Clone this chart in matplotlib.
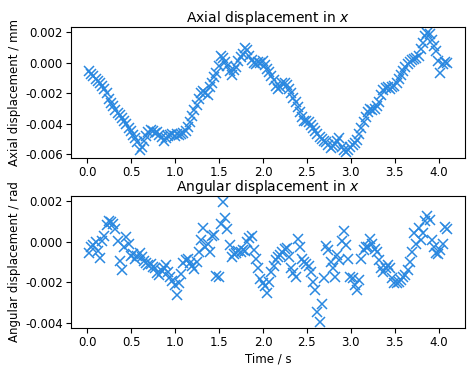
import numpy as np
import matplotlib
matplotlib.use("Agg")
import matplotlib.pyplot as plt

# sample times (s)
time = np.round(np.arange(0.02, 4.1, 0.025), 3)

# axial displacement (units of 1e-3 mm)
axial = [
    -0.55, -0.75, -0.9, -1.05, -1.2, -1.35, -1.5, -1.75,
    -2.0, -2.35, -2.65, -2.85, -3.1, -3.3, -3.45, -3.6,
    -3.8, -4.05, -4.3, -4.5, -4.75, -4.95, -5.2, -5.7,
    -5.5, -5.1, -4.8, -4.55, -4.4, -4.5, -4.6, -4.55,
    -4.75, -4.9, -5.1, -4.95, -4.8, -4.75, -4.7, -4.8,
    -4.7, -4.75, -4.65, -4.6, -4.45, -4.2, -3.9, -3.5,
    -3.1, -2.75, -2.4, -2.0, -1.85, -2.0, -2.15, -1.6,
    -1.3, -0.95, -0.7, -0.2, 0.45, 0.3, 0.05, -0.2,
    -0.55, -0.8, -0.5, -0.3, 0.1, 0.4, 0.6, 0.95,
    0.8, 0.45, 0.15, 0.0, -0.1, 0.05, -0.05, 0.1,
    -0.15, -0.4, -0.6, -0.85, -1.15, -1.5, -1.75, -1.6,
    -1.35, -1.3, -1.45, -1.7, -2.0, -2.3, -2.6, -2.9,
    -3.2, -3.55, -3.8, -3.85, -3.9, -4.1, -4.3, -4.5,
    -4.65, -4.85, -5.0, -5.1, -5.2, -5.4, -5.6, -5.45,
    -5.3, -5.1, -4.95, -5.55, -5.7, -5.85, -5.75, -5.5,
    -5.4, -5.25, -5.05, -4.7, -4.3, -3.9, -3.55, -3.2,
    -3.05, -3.1, -3.05, -2.85, -2.55, -2.15, -1.8, -1.65,
    -1.6, -1.7, -1.6, -1.55, -1.35, -1.05, -0.8, -0.55,
    -0.3, -0.1, 0.05, 0.15, 0.25, 0.3, 0.45, 0.9,
    1.3, 1.75, 1.95, 1.85, 1.5, 1.1, 0.75, 0.1,
    -0.65, -0.1, 0.05, -0.05,
]

# angular displacement (units of 1e-3 rad)
angular = [
    -0.55, -0.25, -0.15, 0.0, -0.45, -0.8, 0.05, 0.3,
    0.8, 1.0, 0.95, 0.85, 0.6, 0.05, -0.95, -1.4,
    -0.25, 0.25, -0.1, -0.7, -0.6, -0.85, -0.7, -0.55,
    -0.75, -0.95, -1.05, -1.15, -1.1, -1.25, -1.3, -1.55,
    -1.65, -1.45, -1.3, -1.15, -1.5, -1.75, -1.95, -2.15,
    -2.6, -2.05, -1.6, -1.05, -0.9, -0.85, -1.05, -1.2,
    -1.35, -1.0, -0.5, 0.1, 0.65, -0.25, -0.1, -0.5,
    0.3, 0.35, -1.7, -1.75, 0.85, 1.95, 1.15, 0.6,
    -0.15, -0.75, -0.6, -0.55, -0.45, -0.5, -0.4, -0.45,
    0.0, 0.2, 0.3, -0.4, -0.85, -1.3, -1.85, -2.05,
    -2.2, -2.5, -2.0, -1.5, -1.2, -0.9, -0.75, -0.65,
    -0.5, -0.35, -0.3, -0.75, -1.3, -1.55, -1.75, 0.15,
    -0.25, -0.85, -1.0, -1.1, -1.2, -1.5, -2.0, -2.4,
    -3.45, -3.95, -3.05, -1.8, -0.2, -0.4, -1.0, -1.3,
    -1.75, -0.65, -0.9, 0.05, 0.5, -0.15, -0.85, -1.75,
    -1.8, -2.15, -2.4, -1.9, -0.85, -0.4, -0.25, -0.25,
    0.15, -0.1, -0.35, -0.5, -0.9, -1.3, -1.5, -1.3,
    -1.15, -1.3, -1.8, -2.05, -2.05, -2.0, -1.9, -1.75,
    -1.65, -1.4, -1.0, -0.5, 0.4, -0.1, 0.65, 0.1,
    0.4, 1.0, 1.25, 1.05, 0.1, -0.25, -0.55, -0.6,
    -0.4, -0.1, 0.7, 0.6,
]

titles = ["Axial displacement in $x$", "Angular displacement in $x$"]
ylabels = ["Axial displacement / mm", "Angular displacement / rad"]
xlabel = "Time / s"

color = "#2a88e0"
fig = plt.figure(figsize=(4.74, 3.69), dpi=100)
ax1 = fig.add_axes([0.150, 0.572, 0.831, 0.355])
ax2 = fig.add_axes([0.150, 0.111, 0.831, 0.358])

for ax, vals, title, ylab in [(ax1, axial, titles[0], ylabels[0]),
                              (ax2, angular, titles[1], ylabels[1])]:
    ax.plot(time, np.array(vals) * 1e-3, "x", color=color, markersize=7, markeredgewidth=1.1)
    ax.set_title(title, fontsize=10, pad=3)
    ax.set_ylabel(ylab, fontsize=8.5, labelpad=3)
    ax.tick_params(labelsize=8.5, pad=2.5)
    ax.set_xticks([0.0, 0.5, 1.0, 1.5, 2.0, 2.5, 3.0, 3.5, 4.0])

ax1.set_yticks([0.002, 0.0, -0.002, -0.004, -0.006])
ax2.set_yticks([0.002, 0.0, -0.002, -0.004])
ax1.yaxis.set_major_formatter(matplotlib.ticker.FormatStrFormatter("%.3f"))
ax2.yaxis.set_major_formatter(matplotlib.ticker.FormatStrFormatter("%.3f"))
ax2.set_xlabel(xlabel, fontsize=8.5, labelpad=2)

fig.savefig("out.png", dpi=100)
